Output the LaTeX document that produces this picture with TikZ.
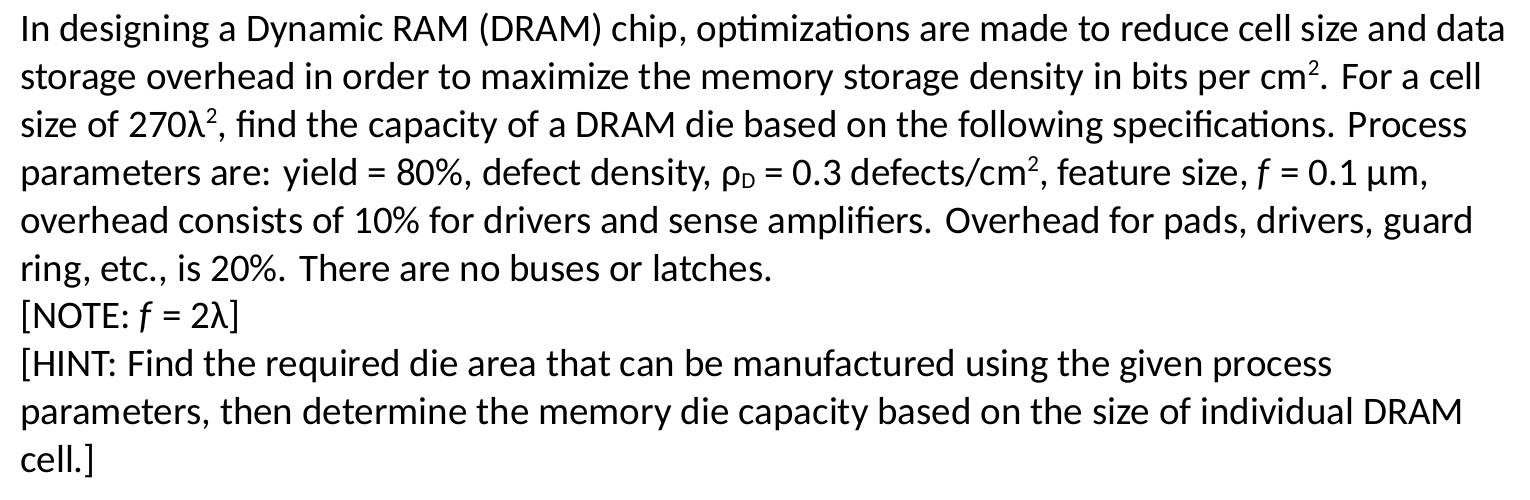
\documentclass[tikz,border=0pt]{standalone}
\usepackage{fontspec}
\setmainfont{Carlito}
\newcommand{\mysup}[1]{\raisebox{14pt}{\fontsize{23}{23}\selectfont #1}}
\newcommand{\mysub}[1]{\raisebox{-3pt}{\fontsize{23}{23}\selectfont #1}}
\begin{document}
\begin{tikzpicture}[x=1pt,y=1pt,line/.style={anchor=base west,inner sep=0pt,font=\fontsize{39}{45}\selectfont}]
\useasboundingbox (0,0) rectangle (1530,-500);
\node[line] (l1) at (20,-42) {In designing a Dynamic RAM (DRAM) chip, optimizations are made to reduce cell size and data};
\node[line] (l2) at (20,-89.8) {storage overhead in order to maximize the memory storage density in bits per cm\mysup{2}. For a cell};
\node[line] (l3) at (20,-137.6) {size of 270λ\mysup{2}, find the capacity of a DRAM die based on the following specifications. Process};
\node[line] (l4) at (20,-185.4) {parameters are: yield = 80\%, defect density, ρ\mysub{D} = 0.3 defects/cm\mysup{2}, feature size, \textit{f} = 0.1 μm,};
\node[line] (l5) at (20,-233.2) {overhead consists of 10\% for drivers and sense amplifiers. Overhead for pads, drivers, guard};
\node[line] (l6) at (20,-281) {ring, etc., is 20\%. There are no buses or latches.};
\node[line] (l7) at (20,-328.8) {[NOTE: \textit{f} = 2λ]};
\node[line] (l8) at (20,-376.6) {[HINT: Find the required die area that can be manufactured using the given process};
\node[line] (l9) at (20,-424.4) {parameters, then determine the memory die capacity based on the size of individual DRAM};
\node[line] (l10) at (20,-472.2) {cell.]};
\end{tikzpicture}
\end{document}
